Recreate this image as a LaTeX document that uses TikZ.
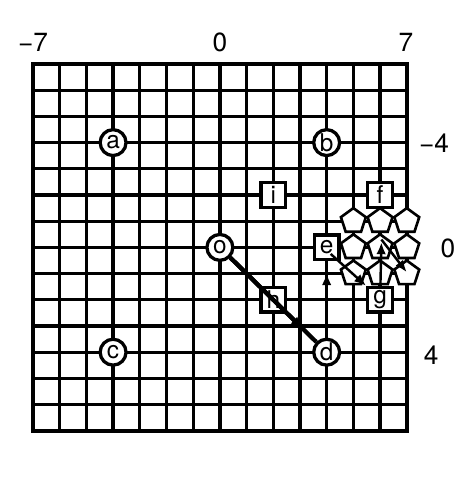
\documentclass[tikz,border=0pt]{standalone}
\usepackage{fontspec}
\setmainfont{TeX Gyre Heros}
\usetikzlibrary{shapes.geometric,arrows.meta,calc}
\begin{document}
\begin{tikzpicture}[x=1cm,y=-0.9813cm,
  gridline/.style={line width=3.5pt},
  circ/.style={circle,draw,line width=3.5pt,fill=white,minimum size=0.97cm,inner sep=0pt,font=\fontsize{26}{26}\selectfont},
  sq/.style={rectangle,draw,line width=3.5pt,fill=white,minimum size=0.92cm,inner sep=0pt,font=\fontsize{26}{26}\selectfont},
  pent/.style={regular polygon,regular polygon sides=5,draw,line width=2.8pt,fill=white,minimum size=0.98cm,inner sep=0pt},
  lab/.style={font=\fontsize{28}{28}\selectfont,inner sep=0pt},
  endtip/.style={-{Latex[length=4.5mm,width=3.6mm]}}
]
\useasboundingbox (-8.236,-9.443) rectangle (9.517,8.802);
% grid
\foreach \k in {-7,...,7} {
  \draw[gridline] (\k,-7) -- (\k,7);
  \draw[gridline] (-7,\k) -- (7,\k);
}
\draw[line width=3.8pt] (-7,-7) rectangle (7,7);
% axis labels
\node[lab] (lxm) at (-7,-7.84) {−7};
\node[lab] (lx0) at (0,-7.84) {0};
\node[lab] (lxp) at (6.97,-7.84) {7};
\node[lab] (lym) at (8.02,-3.98) {−4};
\node[lab] (ly0) at (8.54,0.02) {0};
\node[lab] (lyp) at (7.91,4.1) {4};
% pentagons
\foreach \i in {5,6,7} {
  \foreach \j in {-1,0,1} {
    \node[pent] (p\i\j) at (\i,\j) {};
  }
}
% nodes
\node[circ] (a) at (-4,-4) {a};
\node[circ] (b) at (4,-4) {b};
\node[circ] (c) at (-4,4) {c};
\node[circ] (o) at (0,0) {o};
\node[circ] (d) at (4,4) {d};
\node[sq] (i) at (2,-2) {i};
\node[sq] (f) at (6,-2) {f};
\node[sq] (e) at (4,0) {e};
\node[sq] (g) at (6,2) {g};
\node[sq] (h) at (2,2) {h};
% connectors
\coordinate (tg) at (6.05,-0.2);
\coordinate (s71) at (6.05,-0.3);
\coordinate (t71) at (7.0,0.95);
\coordinate (tod) at (3.1,3.1);
\coordinate (tde) at (4,0.98);
\draw[line width=4.5pt] (o) -- (d);
\draw[line width=4.5pt,endtip] (o) -- (tod);
\draw[line width=3.5pt] (d) -- (e);
\draw[line width=3.5pt,endtip] (d) -- (tde);
\draw[line width=2.6pt,endtip] (4.15,0.25) -- (g.north west);
\draw[line width=2.6pt,endtip] (g) -- (tg);
\draw[line width=2.6pt,endtip] (s71) -- (t71);
\end{tikzpicture}
\end{document}
